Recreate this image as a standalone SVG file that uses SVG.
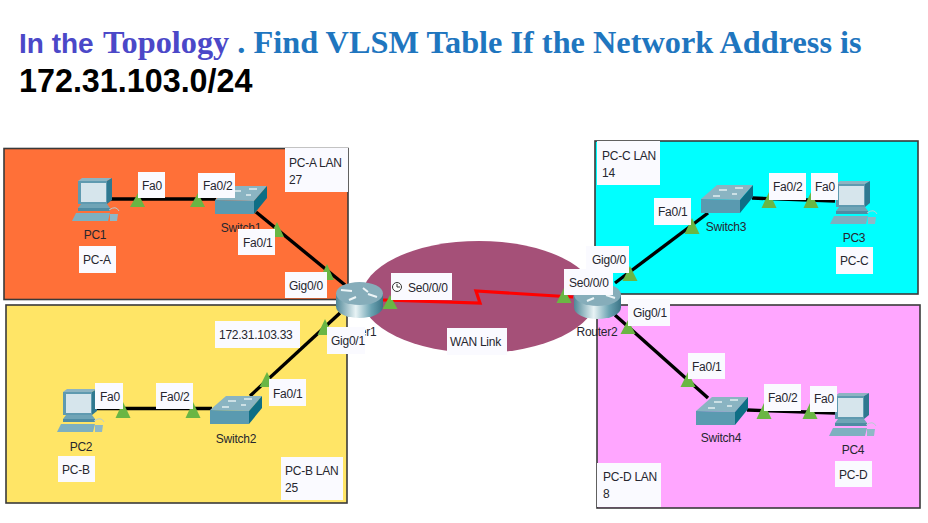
<svg xmlns="http://www.w3.org/2000/svg" xmlns:xlink="http://www.w3.org/1999/xlink" width="928" height="523" viewBox="0 0 928 523">
<style>
text{font-family:"Liberation Sans",Arial,sans-serif;font-size:12px;letter-spacing:-.25px;fill:#26262e}
.t{font-family:"Liberation Serif","Times New Roman",serif;font-weight:bold;font-size:32.300px;letter-spacing:0;fill:#1f76bf}
.ts{font-family:"Liberation Sans",Arial,sans-serif;font-size:28px}
.tp{fill:#4b48c8}
.zone{stroke:#3a3a3a;stroke-width:1.6}
.lb{fill:#fafaff}
.cab{fill:none;stroke:#000;stroke-width:3.4}
.wan{fill:none;stroke:#f00;stroke-width:3.2}
.tri{fill:#6ab644}
</style>
<defs>
<linearGradient id="rg" x1="0" x2="1" y1="0" y2="0"><stop offset="0" stop-color="#4f8797"/><stop offset=".42" stop-color="#e8f3f5"/><stop offset=".75" stop-color="#6aa2b1"/><stop offset="1" stop-color="#3c7486"/></linearGradient>
<g id="pc">
<path d="M5 3L9 0H39L34 3Z" fill="#8db4c2"/>
<path d="M5 3H34V26H5Z" fill="#5f9ab0"/>
<path d="M8 5H33V24H8Z" fill="#d6e5ec"/>
<path d="M34 3L39 0V22L34 26Z" fill="#2f7890"/>
<path d="M8 26H34L37 30H5Z" fill="#6fa4b6"/>
<path d="M5 30H37V33H5Z" fill="#4f8ca3"/>
<path d="M3 35H37L35 43H-1Z" fill="#7eb0c0"/>
<path d="M37 36H45L44 43H37Z" fill="#8fb8c6"/>
<path d="M36 32Q43 27 46 33" fill="none" stroke="#b9cdd2"/>
</g>
<g id="sw">
<path d="M0 14L16 0H52L39 15Z" fill="#8ab4c2"/>
<path d="M39 15L52 0V12L39 28Z" fill="#0e6e85"/>
<path d="M0 14L39 15V28H0Z" fill="#5a9ab0"/>
<path d="M18 5h8M34 3h8M12 11h7M31 9h5" stroke="#e2eef1" stroke-width="1.400"/>
</g>
<g id="rt">
<path d="M0 11.500V24.500A23.500 11.500 0 0 0 47 24.500V11.500Z" fill="url(#rg)"/>
<ellipse cx="23.500" cy="11.500" rx="23.500" ry="11.500" fill="#86adba"/>
<path d="M5 8l11 1M13 18l7-3M27 6l5 4M32 12l9 3" stroke="#edf5f7" stroke-width="2"/>
</g>
</defs>
<rect width="928" height="523" fill="#fff"/>
<text id="title1" class="t" x="19" y="53"><tspan class="tp ts">In the</tspan><tspan class="tp" x="103">Topology</tspan> . Find VLSM Table If the Network Address is</text>
<text id="title2" x="19" y="92" style="font-size:32.300px;font-weight:bold;letter-spacing:0;fill:#000">172.31.103.0/24</text>

<g id="zones">
<rect class="zone" x="4" y="148.500" width="344" height="151" fill="#ff7038"/>
<rect class="zone" x="6" y="305" width="341" height="198" fill="#ffe566"/>
<rect class="zone" x="595" y="141" width="323" height="153" fill="#00ffff"/>
<rect class="zone" x="597" y="305" width="323" height="203" fill="#ffa6ff"/>
<ellipse cx="479" cy="297" rx="117" ry="56" fill="#a55078"/>
</g>

<g id="connectors">
<path class="cab" d="M110 199H216"/>
<path class="cab" d="M256 212L345 285"/>
<path class="cab" d="M340 313L250 396"/>
<path class="cab" d="M95 408.500H212"/>
<path class="cab" d="M615 283L708 213"/>
<path class="cab" d="M752 198L835 201"/>
<path class="cab" d="M615 315L708 398"/>
<path class="cab" d="M747 410L835 413"/>
<path class="wan" d="M383 300L480 303L476 291L573 297"/>
</g>

<g id="ports">
<path class="tri" d="M138 193l7 14h-15z"/>
<path class="tri" d="M198 193l7 14h-15z"/>
<path class="tri" d="M277 222l7 15h-15z"/>
<path class="tri" d="M327 264l7 16h-15z"/>
<path class="tri" d="M123 402l7.500 16h-15z"/>
<path class="tri" d="M193 402l7.500 16h-15z"/>
<path class="tri" d="M267 372l7.500 15h-15z"/>
<path class="tri" d="M325 319l7.500 16h-15z"/>
<path class="tri" d="M390 295l7.500 14h-15z"/>
<path class="tri" d="M564 288l7.500 15h-15z"/>
<path class="tri" d="M628 320l7.500 14h-15z"/>
<path class="tri" d="M630 266l7.500 15h-15z"/>
<path class="tri" d="M692 218l7.500 16h-15z"/>
<path class="tri" d="M769 192l7.500 16h-15z"/>
<path class="tri" d="M811 192l7.500 16h-15z"/>
<path class="tri" d="M688 372l7.500 15h-15z"/>
<path class="tri" d="M764 403l7.500 16h-15z"/>
<path class="tri" d="M810 403l7.500 16h-15z"/>
</g>

<g id="PC1"><use href="#pc" x="73" y="178"/><text x="95" y="239" text-anchor="middle">PC1</text></g>
<g id="PC2"><use href="#pc" x="58" y="389"/><text x="81" y="451" text-anchor="middle">PC2</text></g>
<g id="PC3"><use href="#pc" x="831" y="181"/><text x="854" y="242" text-anchor="middle">PC3</text></g>
<g id="PC4"><use href="#pc" x="830" y="393"/><text x="853" y="454" text-anchor="middle">PC4</text></g>
<g id="Switch1"><use href="#sw" x="215" y="186"/><text x="241" y="232" text-anchor="middle">Switch1</text></g>
<g id="Switch2"><use href="#sw" x="210" y="396"/><text x="236" y="443" text-anchor="middle">Switch2</text></g>
<g id="Switch3"><use href="#sw" x="701" y="185"/><text x="726" y="231" text-anchor="middle">Switch3</text></g>
<g id="Switch4"><use href="#sw" x="696" y="397"/><text x="721" y="442" text-anchor="middle">Switch4</text></g>
<g id="Router1"><use href="#rt" x="336" y="282"/><text x="356" y="336" text-anchor="middle">Router1</text></g>
<g id="Router2"><use href="#rt" x="574" y="283"/><text x="597" y="336" text-anchor="middle">Router2</text></g>

<g id="labels">
<rect class="lb" x="138" y="172" width="27" height="26"/><text x="142" y="190">Fa0</text>
<rect class="lb" x="198" y="173" width="37" height="25"/><text x="203" y="190">Fa0/2</text>
<rect class="lb" x="285" y="148" width="63" height="44"/><text x="289" y="167">PC-A LAN</text><text x="289" y="184">27</text>
<rect class="lb" x="238" y="229" width="37" height="26"/><text x="243" y="247">Fa0/1</text>
<rect class="lb" x="285" y="272" width="42" height="26"/><text x="289" y="290">Gig0/0</text>
<rect class="lb" x="79" y="246" width="37" height="27"/><text x="83" y="264">PC-A</text>
<rect class="lb" x="215" y="321" width="85" height="27"/><text x="219" y="339">172.31.103.33</text>
<rect class="lb" x="327" y="327" width="38" height="27"/><text x="331" y="345">Gig0/1</text>
<rect class="lb" x="95" y="383" width="28" height="26"/><text x="100" y="401">Fa0</text>
<rect class="lb" x="156" y="383" width="37" height="26"/><text x="160" y="401">Fa0/2</text>
<rect class="lb" x="269" y="379" width="37" height="27"/><text x="273" y="398">Fa0/1</text>
<rect class="lb" x="58" y="456" width="37" height="26"/><text x="62" y="474">PC-B</text>
<rect class="lb" x="281" y="457" width="62" height="43"/><text x="285" y="475">PC-B LAN</text><text x="285" y="492">25</text>
<rect class="lb" x="391" y="273" width="61" height="27"/><text x="408" y="292">Se0/0/0</text>
<circle cx="397" cy="287" r="4.500" fill="#fff" stroke="#333" stroke-width="1"/><path d="M397 284v3h3" fill="none" stroke="#333" stroke-width="1"/>
<rect class="lb" x="447" y="328" width="60" height="27"/><text x="450" y="346">WAN Link</text>
<rect class="lb" x="564" y="269" width="49" height="26"/><text x="569" y="287">Se0/0/0</text>
<rect class="lb" x="586" y="246" width="43" height="27"/><text x="592" y="264">Gig0/0</text>
<rect class="lb" x="597" y="141" width="63" height="44"/><text x="602" y="160">PC-C LAN</text><text x="602" y="177">14</text>
<rect class="lb" x="654" y="198" width="37" height="27"/><text x="658" y="216">Fa0/1</text>
<rect class="lb" x="769" y="173" width="37" height="27"/><text x="773" y="191">Fa0/2</text>
<rect class="lb" x="811" y="173" width="27" height="27"/><text x="815" y="191">Fa0</text>
<rect class="lb" x="836" y="247" width="37" height="27"/><text x="840" y="265">PC-C</text>
<rect class="lb" x="628" y="299" width="42" height="27"/><text x="633" y="317">Gig0/1</text>
<rect class="lb" x="688" y="353" width="37" height="26"/><text x="692" y="371">Fa0/1</text>
<rect class="lb" x="764" y="384" width="37" height="27"/><text x="768" y="402">Fa0/2</text>
<rect class="lb" x="810" y="386" width="27" height="26"/><text x="814" y="403">Fa0</text>
<rect class="lb" x="835" y="461" width="37" height="26"/><text x="839" y="479">PC-D</text>
<rect class="lb" x="597" y="463" width="64" height="44"/><text x="603" y="481">PC-D LAN</text><text x="603" y="498">8</text>
</g>
</svg>
